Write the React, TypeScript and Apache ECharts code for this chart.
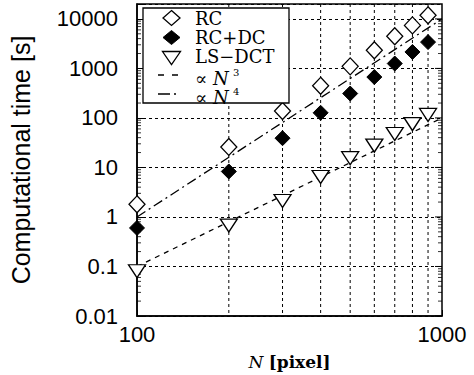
import React, { useEffect, useRef } from "react";
import * as echarts from "echarts";

// ---- data ----
const pixelN = [100, 200, 300, 400, 500, 600, 700, 800, 900];
const rcTimes = [1.8, 26, 138, 445, 1100, 2330, 4450, 7400, 11800];
const rcdcTimes = [0.6, 8.3, 39, 127, 311, 670, 1255, 2150, 3400];
const lsdctTimes = [0.08, 0.67, 2.1, 6.4, 15.4, 27.6, 47.5, 75, 115];

const fitN = [100, 1000];
const fitCube = [0.1, 100];
const fitQuartic = [1, 10000];

const xGridValues = [200, 300, 400, 500, 600, 700, 800, 900];
const yDecades = [0.01, 0.1, 1, 10, 100, 1000, 10000];
const minorDigits = [2, 3, 4, 5, 6, 7, 8, 9];

const X_MIN = 100;
const X_MAX = 1000;
const Y_MIN = 0.01;
const Y_MAX = 20000;

function fmtLog(v: number): string {
  const e = Math.round(Math.log10(v));
  if (Math.abs(Math.log10(v) - e) > 1e-6) return "";
  if (e < 0) return Math.pow(10, e).toFixed(-e);
  return String(Math.round(Math.pow(10, e)));
}

export default function App() {
  const ref = useRef<HTMLDivElement>(null);

  useEffect(() => {
    if (!ref.current) return;
    const chart = echarts.init(ref.current, undefined, { renderer: "svg" });

    const minorValues: number[] = [];
    yDecades.forEach((d) => {
      minorDigits.forEach((m) => {
        const v = d * m;
        if (v < Y_MAX) minorValues.push(v);
      });
    });

    const frame = {
      type: "custom",
      z: 1,
      silent: true,
      data: [[300, 1]],
      renderItem: (_params: any, api: any) => {
        const children: any[] = [];
        const left = api.coord([X_MIN, 1])[0];
        const right = api.coord([X_MAX, 1])[0];
        const top = api.coord([X_MIN, Y_MAX])[1];
        const bottom = api.coord([X_MIN, Y_MIN])[1];
        xGridValues.forEach((v) => {
          const x = api.coord([v, 1])[0];
          children.push({
            type: "line",
            shape: { x1: x, y1: top, x2: x, y2: bottom },
            style: { stroke: "#000", lineWidth: 1, lineDash: [3, 3] },
          });
        });
        minorValues.forEach((v) => {
          const y = api.coord([X_MIN, v])[1];
          children.push({
            type: "line",
            shape: { x1: left, y1: y, x2: left + 4, y2: y },
            style: { stroke: "#000", lineWidth: 0.8 },
          });
          children.push({
            type: "line",
            shape: { x1: right, y1: y, x2: right - 4, y2: y },
            style: { stroke: "#000", lineWidth: 0.8 },
          });
        });
        yDecades.forEach((v) => {
          const y = api.coord([X_MIN, v])[1];
          children.push({
            type: "line",
            shape: { x1: right, y1: y, x2: right - 7, y2: y },
            style: { stroke: "#000", lineWidth: 1 },
          });
        });
        return { type: "group", children };
      },
    };

    const legendZ = 100;
    const mx = 171.5;
    const graphic: any[] = [
      {
        type: "rect",
        z: legendZ,
        shape: { x: 143, y: 8, width: 146, height: 95 },
        style: { fill: "#fff", stroke: "#000", lineWidth: 1.3 },
      },
      {
        type: "polygon",
        z: legendZ + 1,
        shape: { points: [[mx, 10.5], [mx + 8.5, 18], [mx, 25.5], [mx - 8.5, 18]] },
        style: { fill: "#fff", stroke: "#000", lineWidth: 1.3 },
      },
      {
        type: "polygon",
        z: legendZ + 1,
        shape: { points: [[mx, 30.5], [mx + 8.5, 37.5], [mx, 44.5], [mx - 8.5, 37.5]] },
        style: { fill: "#000", stroke: "#000", lineWidth: 1 },
      },
      {
        type: "polygon",
        z: legendZ + 1,
        shape: { points: [[mx - 9, 51.5], [mx + 9, 51.5], [mx, 64.5]] },
        style: { fill: "#fff", stroke: "#000", lineWidth: 1.3 },
      },
      {
        type: "line",
        z: legendZ + 1,
        shape: { x1: 158, y1: 75, x2: 180, y2: 75 },
        style: { stroke: "#000", lineWidth: 1.3, lineDash: [6, 8] },
      },
      {
        type: "line",
        z: legendZ + 1,
        shape: { x1: 158, y1: 94, x2: 180, y2: 94 },
        style: { stroke: "#000", lineWidth: 1.3, lineDash: [12, 4, 2, 10] },
      },
    ];
    const legendText = (text: string, y: number) => ({
      type: "text",
      z: legendZ + 1,
      x: 195,
      y,
      style: {
        text,
        fill: "#000",
        font: '18px "DejaVu Serif"',
        verticalAlign: "middle",
        align: "left",
      },
    });
    graphic.push(legendText("RC", 18));
    graphic.push(legendText("RC+DC", 37.5));
    graphic.push(legendText("LS\u2212DCT", 56.5));
    const propText = (y: number, sup: string) => {
      graphic.push({
        type: "text",
        z: legendZ + 1,
        x: 195,
        y,
        style: {
          text: "{a|\u221D} {i|N}",
          fill: "#000",
          verticalAlign: "middle",
          align: "left",
          font: '18px "DejaVu Serif"',
          rich: {
            a: { fontFamily: "DejaVu Serif", fontSize: 18, fill: "#000" },
            i: { fontFamily: "DejaVu Serif", fontStyle: "italic", fontSize: 18, fill: "#000" },
          },
        },
      });
      graphic.push({
        type: "text",
        z: legendZ + 1,
        x: 233,
        y: y - 6.5,
        style: {
          text: sup,
          fill: "#000",
          font: '10px "DejaVu Serif"',
          verticalAlign: "middle",
          align: "left",
        },
      });
    };
    propText(78.5, "3");
    propText(97.5, "4");

    chart.setOption({
      animation: false,
      backgroundColor: "#fff",
      grid: {
        left: 129,
        right: 32,
        top: 4,
        bottom: 59,
        show: true,
        borderColor: "#000",
        borderWidth: 1.5,
        backgroundColor: "transparent",
      },
      xAxis: {
        type: "log",
        logBase: 10,
        min: X_MIN,
        max: X_MAX,
        axisLine: { show: true, lineStyle: { color: "#000", width: 1.5 } },
        axisTick: { show: true, inside: true, length: 6, lineStyle: { color: "#000" } },
        splitLine: { show: false },
        axisLabel: {
          color: "#000",
          fontFamily: "Liberation Sans",
          fontSize: 22,
          margin: 7,
          formatter: (v: number) => fmtLog(v),
        },
        name: "{i|N} {b|[pixel]}",
        nameLocation: "middle",
        nameGap: 37,
        nameTextStyle: {
          color: "#000",
          fontFamily: "DejaVu Serif",
          fontSize: 17,
          rich: {
            i: { fontFamily: "DejaVu Serif", fontStyle: "italic", fontSize: 17, color: "#000" },
            b: { fontFamily: "DejaVu Serif", fontWeight: "bold", fontSize: 17, color: "#000" },
          },
        },
      },
      yAxis: {
        type: "log",
        logBase: 10,
        min: Y_MIN,
        max: Y_MAX,
        axisLine: { show: true, lineStyle: { color: "#000", width: 1.5 } },
        axisTick: { show: true, inside: true, length: 7, lineStyle: { color: "#000" } },
        splitLine: { show: true, lineStyle: { color: "#000", width: 1, type: [3, 3] } },
        axisLabel: {
          color: "#000",
          fontFamily: "Liberation Sans",
          fontSize: 22,
          margin: 19,
          formatter: (v: number) => fmtLog(v),
        },
        name: "Computational time [s]",
        nameLocation: "middle",
        nameGap: 104,
        nameTextStyle: { color: "#000", fontFamily: "Liberation Sans", fontSize: 25 },
      },
      graphic,
      series: [
        frame,
        {
          name: "\u221D N^3",
          type: "line",
          z: 2,
          data: fitN.map((n, i) => [n, fitCube[i]]),
          symbol: "none",
          lineStyle: { color: "#000", width: 1.3, type: [5, 5] },
        },
        {
          name: "\u221D N^4",
          type: "line",
          z: 2,
          data: fitN.map((n, i) => [n, fitQuartic[i]]),
          symbol: "none",
          lineStyle: { color: "#000", width: 1.3, type: [10, 4, 2, 4] },
        },
        {
          name: "RC",
          type: "scatter",
          z: 3,
          symbol: "diamond",
          symbolSize: [16, 17],
          data: pixelN.map((n, i) => [n, rcTimes[i]]),
          itemStyle: { color: "#fff", borderColor: "#000", borderWidth: 1.3, opacity: 1 },
        },
        {
          name: "RC+DC",
          type: "scatter",
          z: 3,
          symbol: "diamond",
          symbolSize: [15, 15],
          data: pixelN.map((n, i) => [n, rcdcTimes[i]]),
          itemStyle: { color: "#000", borderColor: "#000", borderWidth: 1, opacity: 1 },
        },
        {
          name: "LS-DCT",
          type: "scatter",
          z: 3,
          symbol: "path://M0,0L20,0L10,15Z",
          symbolSize: [17, 13],
          data: pixelN.map((n, i) => [n, lsdctTimes[i]]),
          itemStyle: { color: "#fff", borderColor: "#000", borderWidth: 1.3, opacity: 1 },
        },
      ],
    });

    return () => chart.dispose();
  }, []);

  return (
    <div
      ref={ref}
      style={{ position: "fixed", left: 0, top: 0, width: 474, height: 375 }}
    />
  );
}
